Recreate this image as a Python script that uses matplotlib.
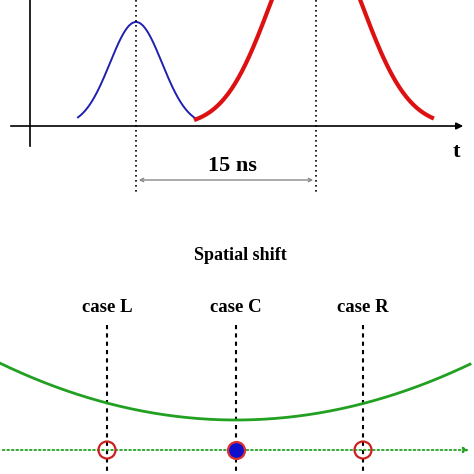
import matplotlib.pyplot as plt
import numpy as np

# schematic in picture units (0..474, y down)
pulse_centers = [136, 316]          # pulse peaks (15 ns apart)
pulse_amps = [104, 200]
pulse_widths = [26, 46]
pulse_ranges = [(78, 196), (196, 432)]
pulse_colors = ["#2020b0", "#dd1111"]
baseline = 126

case_labels = ["case L", "case C", "case R"]
case_x = [107, 236, 363]
parab_min = (236, 420)
parab_k = 0.00102
track_y = 450

fig = plt.figure(figsize=(4.74, 4.74), dpi=100)
ax = fig.add_axes([0, 0, 1, 1])
ax.set_xlim(0, 474)
ax.set_ylim(474, 0)
ax.axis("off")

serif = "Liberation Serif"

# axes of the top sketch
ax.annotate("", xy=(466, baseline), xytext=(8, baseline),
            arrowprops=dict(arrowstyle="-|>", color="black", lw=1.2, mutation_scale=10))
ax.plot([30, 30], [0, 146], color="black", lw=1.2)
ax.text(456, 152, "t", fontsize=16, fontweight="bold", family=serif,
        ha="center", va="center")

for c, a, w, (x0, x1), col, lw in zip(pulse_centers, pulse_amps, pulse_widths,
                                        pulse_ranges, pulse_colors, [1.4, 3]):
    x = np.linspace(x0, x1, 200)
    ax.plot(x, baseline - a * np.exp(-(x - c) ** 2 / (2 * w ** 2)), color=col, lw=lw)

for c in pulse_centers:
    ax.plot([c, c], [0, 195], color="black", lw=1.2, ls=(0, (1, 2)))
ax.annotate("", xy=(pulse_centers[1], 180), xytext=(pulse_centers[0], 180),
            arrowprops=dict(arrowstyle="<->", color="#888888", lw=1, mutation_scale=6))
ax.text(232, 166, "15 ns", fontsize=16, fontweight="bold", family=serif,
        ha="center", va="center")

# bottom sketch
ax.text(240, 255, "Spatial shift", fontsize=13, fontweight="bold", family=serif,
        ha="center", va="center")
for lab, x in zip(case_labels, case_x):
    ax.text(x, 307, lab, fontsize=13.5, fontweight="bold", family=serif,
            ha="center", va="center")
    ax.plot([x, x], [325, 474], color="black", lw=1.5, ls=(0, (2, 2)))

xs = np.linspace(0, 470, 300)
ax.plot(xs, parab_min[1] - parab_k * (xs - parab_min[0]) ** 2, color="#22a022", lw=2)
ax.annotate("", xy=(472, track_y), xytext=(0, track_y),
            arrowprops=dict(arrowstyle="-|>", color="#22a022", lw=1.3, ls=(0, (1, 1.5)),
                            mutation_scale=8))
ax.scatter([case_x[0], case_x[2]], [track_y, track_y], s=150, facecolors="none",
           edgecolors="#cc2020", lw=1.6, zorder=5)
ax.scatter([case_x[1]], [track_y], s=150, facecolors="#1010cc", edgecolors="#dd3030",
           lw=1.6, zorder=5)

fig.savefig("out.png", dpi=100)
